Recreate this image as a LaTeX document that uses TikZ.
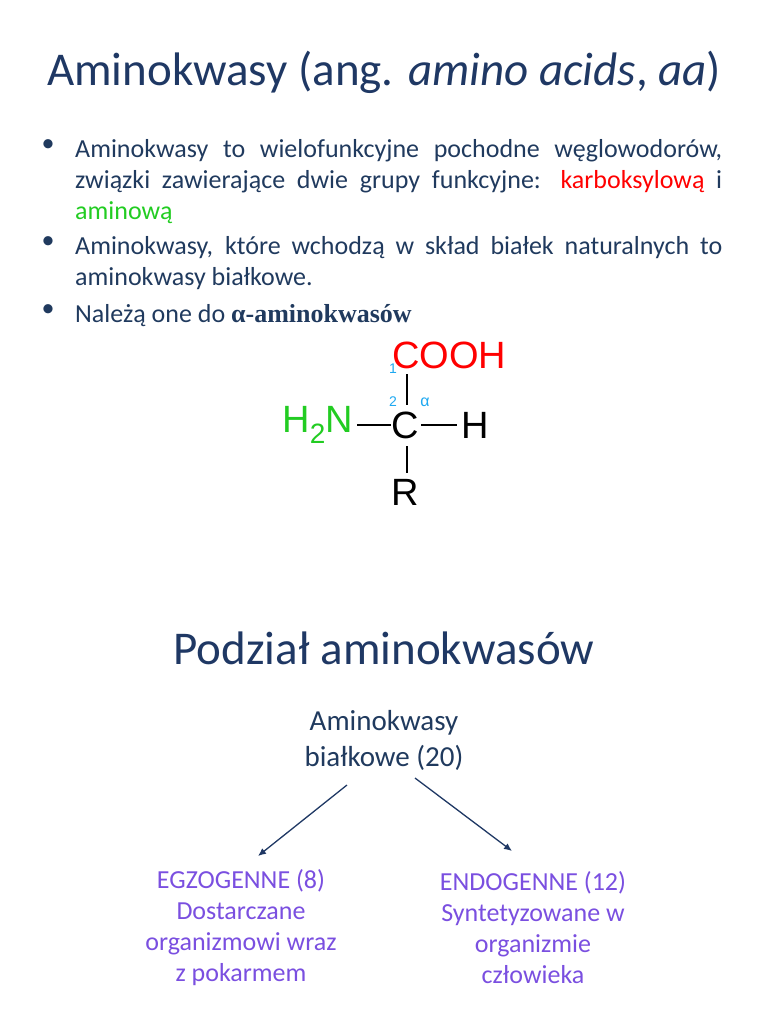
\documentclass[tikz,border=0pt]{standalone}
\usepackage{fontspec}
\setmainfont{Carlito}
\newfontfamily\arial{Liberation Sans}
\newfontfamily\tnr{Liberation Serif}
\usetikzlibrary{arrows.meta}
\definecolor{navy}{HTML}{1F3864}
\definecolor{txt}{HTML}{203A5E}
\definecolor{grn}{HTML}{22CC22}
\definecolor{purp}{HTML}{7A4FE0}
\definecolor{cyanl}{HTML}{1EA8F0}
\tikzset{
 title/.style={font=\fontsize{47}{52}\selectfont,text=navy},
 body/.style={font=\fontsize{26}{31}\selectfont,execute at begin node={\hyphenpenalty=10000\relax},text=txt,anchor=north west,inner sep=0pt,text width=647pt,align=justify},
 bul/.style={font=\fontsize{26}{31}\selectfont,text=txt,inner sep=0pt,anchor=north},
 chem/.style={font=\arial\fontsize{38}{40}\selectfont,inner sep=0pt},
 num/.style={font=\arial\fontsize{14}{14}\selectfont,text=cyanl,inner sep=0pt},
 bond/.style={line width=1.3pt},
 box/.style={font=\fontsize{26}{31}\selectfont,text=purp,align=center,inner sep=0pt},
 arr/.style={-{Latex[length=8pt,width=7pt]},line width=1.3pt,draw=navy}
}
\begin{document}
\begin{tikzpicture}[x=1pt,y=-1pt]
\useasboundingbox (0,0) rectangle (768,1024);
\node[title] (t1) at (384,72) {Aminokwasy (ang. \textit{amino acids}, \textit{aa})};
\node[bul] (b1) at (48,139) {•};
\node[body] (p1) at (75,139) {Aminokwasy to wielofunkcyjne pochodne węglowodorów, związki zawierające dwie grupy funkcyjne: \textcolor{red}{karboksylową} i \textcolor{grn}{aminową}};
\node[bul] (b2) at (48,236) {•};
\node[body] (p2) at (75,236) {Aminokwasy, które wchodzą w skład białek naturalnych to aminokwasy białkowe.};
\node[bul] (b3) at (48,304) {•};
\node[font=\fontsize{26}{31}\selectfont,text=txt,anchor=north west,inner sep=0pt] (p3) at (75,304) {Należą one do {\tnr\bfseries α-aminokwasów}};
% structure
\node[chem,text=red,anchor=west] (cooh) at (392,355) {COOH};
\node[chem] (c) at (405,425) {C};
\node[chem,text=grn,anchor=east] (n) at (353,425) {H\raisebox{-0.3em}{\fontsize{28}{28}\selectfont 2}N};
\node[chem] (h) at (475,425) {H};
\node[chem] (r) at (405,492) {R};
\node[num] (n1) at (393,369) {1};
\node[num] (n2) at (393,402) {2};
\node[num,font=\arial\fontsize{16}{16}\selectfont] (na) at (425,402) {α};
\draw[bond] (407,374) -- (407,405);
\draw[bond] (357,425) -- (391,425);
\draw[bond] (421,425) -- (457,425);
\draw[bond] (407,446) -- (407,473);
% bottom
\node[title] (t2) at (384,648) {Podział aminokwasów};
\node[font=\fontsize{29}{36}\selectfont,text=txt,align=center] (ak) at (384,740) {Aminokwasy\\białkowe (20)};
\node[box] (egz) at (241,928) {EGZOGENNE (8)\\Dostarczane\\organizmowi wraz\\z pokarmem};
\node[box] (endo) at (533,928) {ENDOGENNE (12)\\Syntetyzowane w\\organizmie\\człowieka};
\coordinate (s1) at (347,785); \coordinate (e1) at (258,856);
\coordinate (s2) at (415,778); \coordinate (e2) at (512,851);
\draw[arr] (s1) -- (e1);
\draw[arr] (s2) -- (e2);
\end{tikzpicture}
\end{document}
